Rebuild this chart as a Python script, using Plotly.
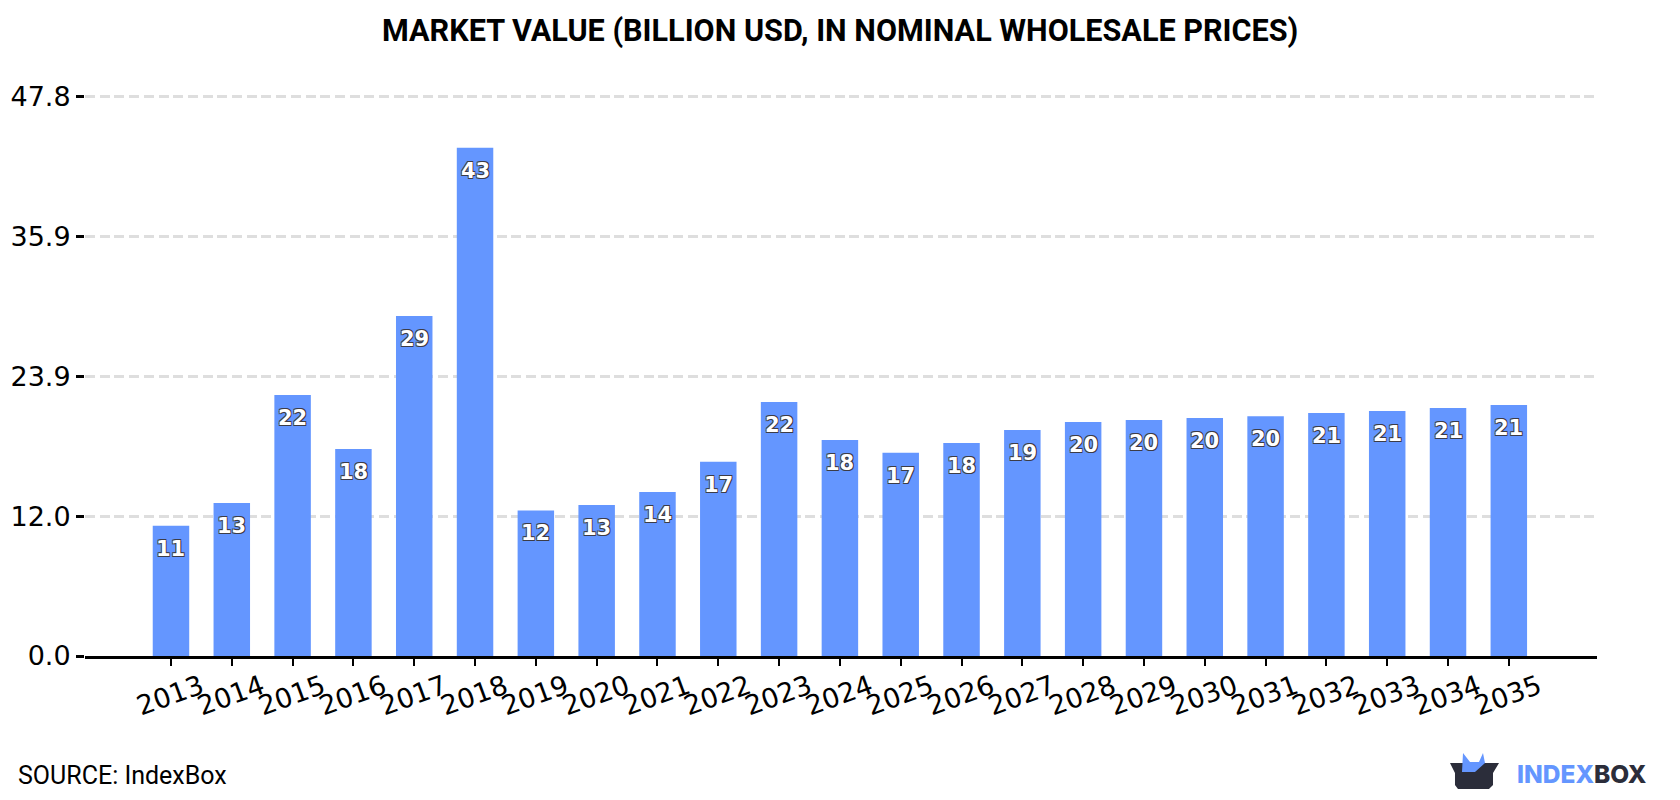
import plotly.graph_objects as go

years = [str(y) for y in range(2013, 2036)]
market_value = [11.13, 13.09, 22.32, 17.71, 29.07, 43.45, 12.45, 12.92, 14.03, 16.6, 21.72, 18.47,
                17.37, 18.22, 19.33, 20.01, 20.18, 20.35, 20.49, 20.78, 20.95, 21.2, 21.46]
y_ticks = [0.0, 11.95, 23.9, 35.85, 47.8]
y_tick_labels = ["0.0", "12.0", "23.9", "35.9", "47.8"]

TITLE = "MARKET VALUE (BILLION USD, IN NOMINAL WHOLESALE PRICES)"
BLUE = "#6496ff"
DARK = "#2b2d3a"
W, H = 1680, 800
ML, MR, MT, MB = 85, 83, 95, 144
OUTLINE = ",".join(f"{dx}px {dy}px 0 #3c3c46" for dx, dy in
                   [(-0.8, -0.8), (0.8, -0.8), (-0.8, 0.8), (0.8, 0.8)])


def px(x, y):
    """Page pixels to paper coordinates of the plot area."""
    return (x - ML) / (W - ML - MR), (H - MB - y) / (H - MT - MB)


def path(points):
    cells = [px(*p) for p in points]
    return "M" + "L".join(f"{a:.5f},{b:.5f}" for a, b in cells) + "Z"


fig = go.Figure(go.Bar(x=list(range(len(years))), y=market_value, width=0.6,
                       marker=dict(color=BLUE, line_width=0), hoverinfo="x+y"))

# Value labels sit a fixed distance under each bar top
annotations = [dict(x=i, y=v, xref="x", yref="y", text=str(int(round(v))), showarrow=False,
                    yanchor="middle", xanchor="center", yshift=-23,
                    font=dict(family="DejaVu Sans", size=21, color="white", weight="bold", shadow=OUTLINE))
               for i, v in enumerate(market_value)]

annotations += [
    dict(x=px(840, 0)[0], y=px(0, 31)[1], xref="paper", yref="paper", text=f"<b>{TITLE}</b>", showarrow=False,
         xanchor="center", yanchor="middle", font=dict(family="Roboto", size=30.6, color="black")),
    dict(x=px(16, 0)[0], y=px(0, 775)[1], xref="paper", yref="paper", text="SOURCE: IndexBox", showarrow=False,
         xanchor="left", yanchor="middle", font=dict(family="Roboto", size=25, color="black")),
    dict(x=px(1515, 0)[0], y=px(0, 774)[1], xref="paper", yref="paper", showarrow=False,
         xanchor="left", yanchor="middle",
         text=f'<span style="color:{BLUE}">INDEX</span><span style="color:{DARK}">BOX</span>',
         font=dict(family="Inter", size=24.5, weight=800)),
]

# Box-shaped brand mark in the lower right corner
shapes = [
    dict(type="path", xref="paper", yref="paper", layer="above", line_width=0, fillcolor=DARK,
         path=path([(1450, 763), (1499, 763), (1493, 773), (1493, 785), (1489, 789),
                    (1458, 789), (1455, 785), (1455, 773)])),
    dict(type="path", xref="paper", yref="paper", layer="above", line_width=0, fillcolor=BLUE,
         path=path([(1462, 772), (1463, 753), (1470, 762), (1479, 762), (1483, 753),
                    (1485, 763), (1475, 772)])),
]

fig.update_layout(
    width=W, height=H, margin=dict(l=ML, r=MR, t=MT, b=MB),
    paper_bgcolor="white", plot_bgcolor="white", showlegend=False, bargap=0.4,
    annotations=annotations, shapes=shapes,
    xaxis=dict(range=[-1.414, 23.45], tickmode="array", tickvals=list(range(len(years))), ticktext=years,
               automargin=False,
               tickangle=-20, ticks="outside", ticklen=7, tickwidth=2, tickcolor="black",
               showline=True, linecolor="black", linewidth=2.5, showgrid=False, zeroline=False,
               ticklabelshift=30, ticklabelstandoff=-5,
               tickfont=dict(family="DejaVu Sans", size=27, color="black")),
    yaxis=dict(range=[0, 47.97], tickmode="array", tickvals=y_ticks, ticktext=y_tick_labels,
               automargin=False,
               ticks="outside", ticklen=8, tickwidth=2.5, tickcolor="black", zeroline=False,
               showgrid=True, gridcolor="#dedede", gridwidth=2.5, griddash="10px,4.7px",
               tickfont=dict(family="DejaVu Sans", size=27, color="black")),
)

fig.write_html("out.html")
